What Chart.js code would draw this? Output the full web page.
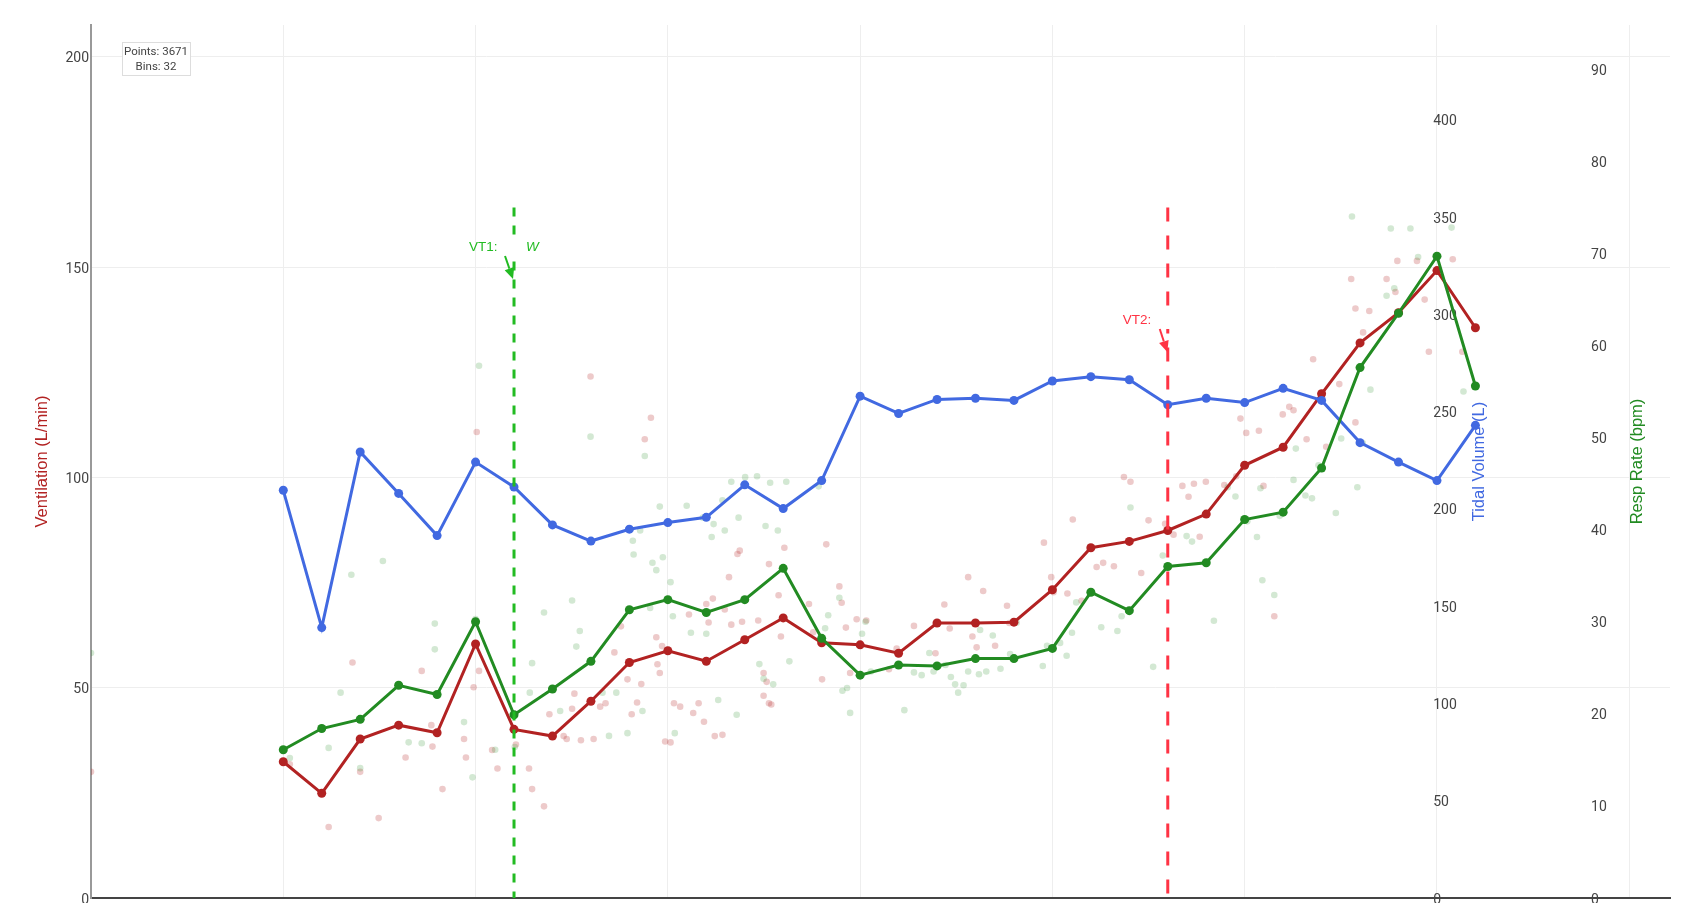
<!DOCTYPE html>
<html>
<head>
<meta charset="utf-8">
<script src="https://cdn.jsdelivr.net/npm/chart.js@4.4.1/dist/chart.umd.min.js"></script>
<style>
  html, body { margin: 0; padding: 0; background: #fff; }
  #wrap { width: 1697px; height: 903px; }
</style>
</head>
<body>
<div id="wrap"><canvas id="myChart"></canvas></div>
<script>
// binned averages (32 bins)
const binTime = [100, 110, 120, 130, 140, 150, 160, 170, 180, 190, 200, 210, 220, 230, 240, 250,
                 260, 270, 280, 290, 300, 310, 320, 330, 340, 350, 360, 370, 380, 390, 400, 410];
const ventilation = [32.4, 24.9, 37.8, 41.1, 39.3, 60.4, 40.1, 38.5, 46.8, 56.0, 58.8, 56.3, 61.4, 66.6, 60.7, 60.2,
                     58.2, 65.4, 65.4, 65.6, 73.3, 83.3, 84.8, 87.4, 91.3, 102.9, 107.2, 119.9, 132.0, 139.2, 149.2, 135.6];
const tidalVolume = [209.6, 139.0, 229.3, 208.0, 186.3, 224.1, 211.3, 191.8, 183.5, 189.6, 193.0, 195.7, 212.4, 200.2, 214.6, 258.0,
                     249.1, 256.3, 256.9, 255.8, 265.8, 268.0, 266.4, 253.6, 256.9, 254.7, 262.0, 255.8, 234.1, 224.1, 214.6, 243.0];
const respRate = [16.1, 18.4, 19.4, 23.1, 22.1, 30.0, 19.9, 22.7, 25.7, 31.3, 32.4, 31.0, 32.4, 35.8, 28.2, 24.2,
                  25.3, 25.2, 26.0, 26.0, 27.1, 33.2, 31.2, 36.0, 36.4, 41.1, 41.9, 46.7, 57.6, 63.5, 69.7, 55.6];

// raw breaths shown behind the lines
const rawVeTime = [50, 101.7, 111.8, 118.0, 120.0, 124.8, 131.8, 136.0, 138.5, 138.8, 141.4, 147.0, 147.5, 149.5, 150.3, 150.9,
  154.3, 155.7, 160.5, 163.9, 164.7, 167.8, 169.2, 172.9, 173.7, 175.1, 175.7, 177.4, 179.9, 180.7, 182.4, 183.8, 186.1,
  187.8, 189.5, 190.6, 192.0, 193.1, 194.0, 195.6, 197.0, 197.3, 197.9, 198.5, 199.3, 200.7, 201.6, 203.2, 205.5, 206.6,
  208.0, 209.4, 210.0, 210.6, 211.7, 212.2, 214.2, 214.8, 215.9, 216.5, 218.1, 218.7, 219.3, 223.5, 224.9, 224.9, 225.7,
  226.3, 226.3, 226.9, 228.8, 229.4, 230.3, 236.7, 237.8, 240.1, 241.2, 244.6, 245.2, 246.3, 247.4, 249.1, 251.6, 257.5,
  259.5, 264.0, 269.6, 271.9, 273.3, 278.1, 279.2, 280.3, 282.0, 285.1, 288.2, 288.8, 297.8, 299.7, 300.3, 303.9, 305.3,
  307.6, 311.5, 313.2, 316.0, 318.6, 320.3, 323.1, 325.0, 329.3, 331.5, 333.8, 335.4, 336.8, 338.3, 339.9, 344.7, 347.8,
  348.9, 350.4, 353.7, 354.9, 357.7, 359.9, 361.6, 362.7, 366.1, 367.8, 371.2, 374.6, 377.7, 378.8, 378.8, 380.8, 382.4,
  386.9, 389.2, 389.7, 394.8, 396.8, 397.9, 404.1, 406.6];
const rawVe = [30.0, 31.8, 16.9, 56.0, 30.0, 19.0, 33.4, 54.0, 41.1, 36.0, 25.9, 37.8, 33.4, 50.1, 110.8, 54.0,
  35.2, 30.8, 36.5, 30.8, 25.9, 21.8, 43.7, 38.5, 37.8, 45.0, 48.6, 37.5, 124.0, 37.8, 45.5, 46.3, 58.4,
  64.6, 52.0, 43.7, 46.5, 50.9, 109.1, 114.2, 62.0, 55.6, 53.5, 59.9, 37.2, 37.0, 46.3, 45.5, 67.4, 44.0,
  46.3, 41.9, 69.9, 65.5, 71.2, 38.5, 38.8, 68.6, 76.3, 65.0, 81.8, 82.6, 65.7, 66.0, 53.5, 48.1, 51.4,
  79.4, 46.3, 46.0, 72.0, 62.2, 83.3, 69.9, 63.2, 52.0, 84.1, 74.1, 70.2, 64.3, 53.5, 66.3, 66.0, 54.4,
  59.3, 64.7, 58.2, 69.8, 64.1, 76.3, 62.2, 59.6, 73.0, 60.0, 69.5, 65.4, 84.5, 76.3, 72.7, 72.4, 90.0,
  70.7, 78.7, 79.7, 78.9, 100.1, 99.0, 77.3, 89.8, 89.0, 86.4, 98.0, 95.4, 98.5, 85.9, 99.0, 98.2, 100.3,
  114.0, 110.6, 111.1, 98.0, 67.0, 115.0, 116.8, 116.0, 109.1, 128.1, 107.3, 122.2, 147.2, 113.1, 140.2, 134.5, 139.6,
  147.2, 144.1, 151.5, 151.5, 142.3, 129.9, 151.9, 129.9];
const rawRrTime = [50, 101.7, 111.8, 114.9, 117.7, 120.0, 125.9, 132.6, 136.0, 139.4, 139.4, 147.0, 149.2, 150.0, 150.9,
  155.1, 160.2, 164.1, 164.7, 167.8, 172.0, 175.1, 176.2, 177.1, 179.9, 183.0, 184.7, 186.6, 189.5, 190.9, 191.1, 192.8,
  193.4, 194.0, 195.4, 196.0, 197.0, 197.9, 198.7, 200.7, 201.3, 201.8, 204.9, 206.0, 209.1, 210.0, 211.4, 211.9, 213.1,
  214.2, 214.8, 216.5, 217.9, 218.4, 220.1, 223.2, 223.8, 224.9, 225.4, 226.6, 227.4, 228.6, 230.8, 231.6, 239.2, 240.9,
  241.7, 244.6, 245.4, 246.6, 247.4, 250.5, 251.4, 252.8, 261.5, 264.0, 266.0, 268.0, 269.1, 272.2, 273.6, 274.7, 275.5,
  276.9, 278.1, 280.9, 281.2, 282.8, 284.5, 286.5, 289.0, 290.7, 297.5, 298.6, 302.0, 303.7, 305.1, 306.2, 312.7, 316.9,
  318.0, 320.3, 326.2, 328.7, 334.9, 336.3, 342.0, 345.6, 347.6, 350.7, 353.2, 354.1, 354.6, 357.7, 359.1, 362.7, 363.3,
  365.8, 367.5, 369.2, 373.7, 375.1, 377.9, 379.3, 380.7, 382.7, 386.9, 388.0, 388.9, 393.1, 395.1, 403.8, 406.9];
const rawRr = [26.6, 15.2, 16.3, 22.3, 35.1, 14.1, 36.6, 16.9, 16.8, 27.0, 29.8, 19.1, 13.1, 30.3, 57.8,
  16.1, 16.4, 22.3, 25.5, 31.0, 20.3, 32.3, 27.3, 29.0, 50.1, 22.3, 17.6, 22.3, 17.9, 38.8, 37.3, 39.9,
  20.3, 48.0, 31.5, 36.4, 35.6, 42.5, 37.0, 34.3, 30.6, 17.9, 42.6, 28.8, 41.3, 28.7, 39.2, 40.6, 21.5,
  43.2, 39.9, 45.2, 19.9, 41.3, 45.7, 45.8, 25.4, 23.8, 40.4, 45.1, 23.2, 39.9, 45.2, 25.7, 44.7, 29.3,
  30.7, 32.6, 22.5, 22.8, 20.1, 28.7, 30.0, 24.6, 20.4, 24.5, 24.2, 26.6, 24.6, 25.3, 24.0, 23.2, 22.3,
  23.1, 24.6, 24.3, 29.1, 24.6, 28.5, 24.9, 26.5, 29.9, 25.2, 27.4, 27.7, 26.3, 28.8, 32.1, 29.4, 29.0,
  30.6, 42.4, 25.1, 37.2, 39.3, 38.7, 30.1, 44.6, 43.6, 40.9, 39.2, 44.5, 34.5, 32.9, 41.5, 45.4, 48.8,
  43.7, 43.4, 47.0, 41.8, 49.9, 74.0, 44.6, 49.4, 55.2, 65.4, 72.7, 66.2, 72.7, 69.6, 72.8, 55.0];

// thresholds
const vt1Time = 160;
const vt2Time = 330;
const markerTop = 164.2;
const pointsCount = 3671;

// axes
const xGrid = [50, 100, 150, 200, 250, 300, 350, 400, 450];
const veTicks = [0, 50, 100, 150, 200];
const tvTicks = [0, 50, 100, 150, 200, 250, 300, 350, 400];
const rrTicks = [0, 10, 20, 30, 40, 50, 60, 70, 80, 90];

const RED = '#b22222', GREEN = '#228b22', BLUE = '#4169e1';
const VT1_COL = '#22bb22', VT2_COL = '#ff3344';
const TITLE_FONT = '16.5px "Liberation Sans", Arial, sans-serif';
const LABEL_FONT = '13.5px "Liberation Sans", Arial, sans-serif';

const pairs = (xs, ys) => xs.map((x, i) => ({ x: x, y: ys[i] }));
const setTicks = arr => scale => { scale.ticks = arr.map(v => ({ value: v })); };

function drawArrow(ctx, x0, y0, x1, y1, color) {
  const ang = Math.atan2(y1 - y0, x1 - x0);
  const head = 11;
  const bx = x1 - head * Math.cos(ang), by = y1 - head * Math.sin(ang);
  ctx.strokeStyle = color;
  ctx.fillStyle = color;
  ctx.lineWidth = 2;
  ctx.beginPath(); ctx.moveTo(x0, y0); ctx.lineTo(bx, by); ctx.stroke();
  ctx.beginPath();
  ctx.moveTo(x1, y1);
  ctx.lineTo(bx + 5 * Math.sin(ang), by - 5 * Math.cos(ang));
  ctx.lineTo(bx - 5 * Math.sin(ang), by + 5 * Math.cos(ang));
  ctx.closePath(); ctx.fill();
}

// label with a white backing where the value would sit
function vtLabel(ctx, text, suffix, lineX, y, color) {
  ctx.font = LABEL_FONT;
  const left = lineX - 45;
  const w = ctx.measureText(text).width;
  ctx.fillStyle = '#fff';
  ctx.fillRect(left + w + 1, y - 9, lineX + 6 - (left + w + 1), 18);
  ctx.fillStyle = color;
  ctx.textAlign = 'left';
  ctx.textBaseline = 'middle';
  ctx.fillText(text, left, y);
  if (suffix) {
    ctx.font = 'italic ' + LABEL_FONT;
    ctx.fillText(suffix, lineX + 12, y);
  }
}

// puts the two extra y axes inside the plot and draws the labels
const overlay = {
  id: 'overlay',
  afterLayout(chart) {
    const a = chart.chartArea;
    const w = a.right - a.left;
    const tv = chart.scales.yTV, rr = chart.scales.yRR;
    tv.left = a.left + 0.85 * w;
    tv.right = tv.left + 60;
    rr.left = a.left + 0.95 * w;
    rr.right = rr.left + 60;
  },
  beforeDatasetsDraw(chart) {
    const ctx = chart.ctx, a = chart.chartArea;
    const midY = (a.top + a.bottom) / 2;
    ctx.save();
    ctx.font = TITLE_FONT;
    ctx.textAlign = 'center';
    ctx.textBaseline = 'middle';
    [[chart.scales.yTV, 'Tidal Volume (L)', BLUE], [chart.scales.yRR, 'Resp Rate (bpm)', GREEN]].forEach(([s, t, c]) => {
      ctx.save();
      ctx.translate(s.left + 46, midY);
      ctx.rotate(-Math.PI / 2);
      ctx.fillStyle = c;
      ctx.fillText(t, 0, 0);
      ctx.restore();
    });
    ctx.restore();
  },
  afterDatasetsDraw(chart) {
    const ctx = chart.ctx, a = chart.chartArea, xs = chart.scales.x;
    ctx.save();
    // info box
    const bx = a.left + 31, by = 42;
    ctx.fillStyle = '#fff';
    ctx.fillRect(bx, by, 68, 33);
    ctx.strokeStyle = '#dddddd';
    ctx.lineWidth = 1;
    ctx.strokeRect(bx + 0.5, by + 0.5, 68, 33);
    ctx.fillStyle = '#444';
    ctx.font = '11.5px Roboto, sans-serif';
    ctx.textAlign = 'center';
    ctx.textBaseline = 'middle';
    ctx.fillText('Points: ' + pointsCount, bx + 34, by + 10.5);
    ctx.fillText('Bins: ' + binTime.length, bx + 34, by + 25);

    // threshold labels
    const x1 = xs.getPixelForValue(vt1Time);
    const x2 = xs.getPixelForValue(vt2Time);
    vtLabel(ctx, 'VT1:', 'W', x1, 247, VT1_COL);
    drawArrow(ctx, x1 - 9, 256, x1 - 1, 279, VT1_COL);
    vtLabel(ctx, 'VT2:', '', x2, 320, VT2_COL);
    drawArrow(ctx, x2 - 8, 329, x2 - 0.5, 352, VT2_COL);
    ctx.restore();
  }
};

const tickFont = { family: 'Roboto', size: 14 };

const ctx = document.getElementById('myChart').getContext('2d');
const myChart = new Chart(ctx, {
  type: 'line',
  data: {
    datasets: [
      {
        label: 'VT1',
        data: [{ x: vt1Time, y: markerTop }, { x: vt1Time, y: 0 }],
        yAxisID: 'y',
        borderColor: VT1_COL,
        borderWidth: 3,
        borderDash: [9, 9],
        pointRadius: 0
      },
      {
        label: 'VT2',
        data: [{ x: vt2Time, y: markerTop }, { x: vt2Time, y: 0 }],
        yAxisID: 'y',
        borderColor: VT2_COL,
        borderWidth: 3,
        borderDash: [14, 14],
        pointRadius: 0
      },
      {
        label: 'Resp Rate',
        data: pairs(binTime, respRate),
        yAxisID: 'yRR',
        borderColor: GREEN,
        backgroundColor: GREEN,
        borderWidth: 3,
        pointRadius: 4.5,
        pointBorderWidth: 0
      },
      {
        label: 'Tidal Volume',
        data: pairs(binTime, tidalVolume),
        yAxisID: 'yTV',
        borderColor: BLUE,
        backgroundColor: BLUE,
        borderWidth: 3,
        pointRadius: 4.5,
        pointBorderWidth: 0
      },
      {
        label: 'Ventilation',
        data: pairs(binTime, ventilation),
        yAxisID: 'y',
        borderColor: RED,
        backgroundColor: RED,
        borderWidth: 3,
        pointRadius: 4.5,
        pointBorderWidth: 0
      },
      {
        label: 'RR raw',
        data: pairs(rawRrTime, rawRr),
        yAxisID: 'yRR',
        showLine: false,
        pointRadius: 3.3,
        pointBorderWidth: 0,
        backgroundColor: 'rgba(34, 139, 34, 0.2)'
      },
      {
        label: 'VE raw',
        data: pairs(rawVeTime, rawVe),
        yAxisID: 'y',
        showLine: false,
        pointRadius: 3.3,
        pointBorderWidth: 0,
        backgroundColor: 'rgba(178, 34, 34, 0.24)'
      }
    ]
  },
  options: {
    responsive: true,
    maintainAspectRatio: false,
    animation: false,
    layout: { padding: { top: 25, right: 27, bottom: 5, left: 0 } },
    plugins: { legend: { display: false }, tooltip: { enabled: false } },
    elements: { line: { tension: 0 } },
    scales: {
      x: {
        type: 'linear',
        min: 50,
        max: 460.6,
        afterBuildTicks: setTicks(xGrid),
        ticks: { display: false },
        grid: { color: '#eeeeee', drawTicks: false },
        border: { color: '#444', width: 2 },
        afterFit: s => { s.height = 0; s.paddingLeft = 0; s.paddingRight = 0; }
      },
      y: {
        position: 'left',
        min: 0,
        max: 207.6,
        afterBuildTicks: setTicks(veTicks),
        ticks: { color: '#444', font: tickFont, padding: 2, labelOffset: 2 },
        grid: { color: '#eeeeee', drawTicks: false },
        border: { color: '#999', width: 2 },
        title: {
          display: true,
          text: 'Ventilation (L/min)',
          color: RED,
          font: { family: 'Liberation Sans', size: 16.5 },
          padding: { top: 33, bottom: 0 }
        },
        afterFit: s => { s.width = 91; s.paddingTop = 0; s.paddingBottom = 0; }
      },
      yTV: {
        position: 'right',
        min: 0,
        max: 448.8,
        afterBuildTicks: setTicks(tvTicks),
        ticks: { color: '#444', font: tickFont, padding: 0, labelOffset: 2 },
        grid: { display: false, drawTicks: false },
        border: { display: false },
        afterFit: s => { s.width = 0; s.paddingTop = 0; s.paddingBottom = 0; }
      },
      yRR: {
        position: 'right',
        min: 0,
        max: 94.8,
        afterBuildTicks: setTicks(rrTicks),
        ticks: { color: '#444', font: tickFont, padding: 0, labelOffset: 2 },
        grid: { display: false, drawTicks: false },
        border: { display: false },
        afterFit: s => { s.width = 0; s.paddingTop = 0; s.paddingBottom = 0; }
      }
    }
  },
  plugins: [overlay]
});
</script>
</body>
</html>
